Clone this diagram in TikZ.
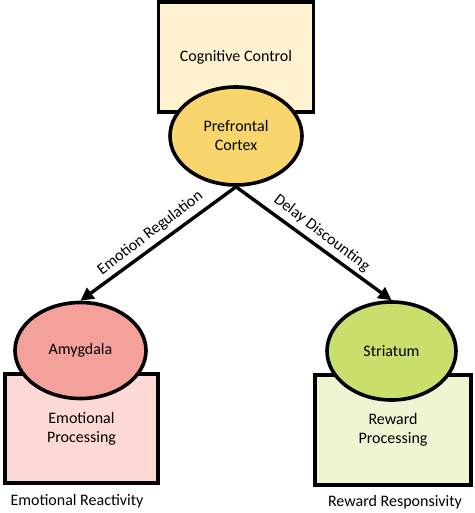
\documentclass[tikz,border=0pt]{standalone}
\usepackage{fontspec}
\setmainfont{Carlito}
\usetikzlibrary{shapes.geometric,arrows.meta}
\definecolor{cream}{HTML}{FEF2D0}
\definecolor{pfcfill}{HTML}{F9D56E}
\definecolor{amyfill}{HTML}{F5A19B}
\definecolor{emofill}{HTML}{FCD9D5}
\definecolor{strfill}{HTML}{C9DF6B}
\definecolor{rewfill}{HTML}{EFF5D3}
\tikzset{
  txt/.style={font=\fontsize{16}{19}\selectfont},
  boxnode/.style={txt, draw=black, line width=3.6pt, rectangle, inner sep=0pt, align=center},
  ellnode/.style={txt, draw=black, line width=3.6pt, ellipse, inner sep=0pt, align=center},
  arr/.style={line width=3.4pt, -{Triangle[length=13pt,width=13pt]}},
  lab/.style={txt, anchor=south, inner sep=4.5pt},
  captext/.style={txt}
}
\begin{document}
\begin{tikzpicture}[x=1pt,y=-1pt]
\useasboundingbox (0,0) rectangle (474,513);
\node[boxnode, fill=cream, minimum width=155pt, minimum height=110pt] (cc) at (236,57) {Cognitive Control};
\node[ellnode, fill=pfcfill, minimum width=132pt, minimum height=98pt] (pfc) at (236,136) {Prefrontal\\Cortex};
\node[boxnode, fill=emofill, minimum width=153pt, minimum height=109pt] (emo) at (81.5,428.5) {Emotional\\Processing};
\node[ellnode, fill=amyfill, minimum width=131pt, minimum height=96pt] (amy) at (80.5,350.5) {Amygdala};
\node[boxnode, fill=rewfill, minimum width=156pt, minimum height=110pt] (rew) at (393,430) {Reward\\Processing};
\node[ellnode, fill=strfill, minimum width=129pt, minimum height=98pt] (str) at (391.5,351) {Striatum};
\draw[arr] (pfc.south) -- node[lab, rotate=37.4] {Emotion Regulation} (amy.north);
\draw[arr] (pfc.south) -- node[lab, rotate=-37.4] {Delay Discounting} (str.north);
\node[captext] (er) at (77,501) {Emotional Reactivity};
\node[captext] (rr) at (395,502) {Reward Responsivity};
\end{tikzpicture}
\end{document}
